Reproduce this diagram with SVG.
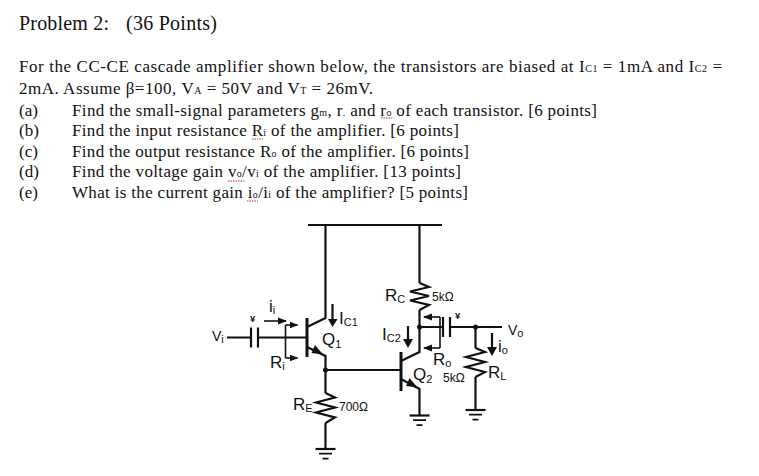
<svg xmlns="http://www.w3.org/2000/svg" width="759" height="476" viewBox="0 0 759 476">
<style>
.t{font-family:"Liberation Serif",serif;font-size:17px;fill:#111}
.s{font-size:10px}
.h{font-size:20px}
.c{font-family:"Liberation Sans",sans-serif;font-size:17px;fill:#111}
.c tspan{font-size:11px}
.v{font-size:14px}
.m{font-family:"Liberation Sans",sans-serif;font-size:12px;fill:#111}
.y{font-size:9.5px;font-weight:bold}
.w{fill:none;stroke:#111;stroke-width:2.2}
.g{fill:none;stroke:#111;stroke-width:1.8}
.th{fill:none;stroke:#111;stroke-width:1.6}
.b{fill:none;stroke:#111;stroke-width:3}
.sq{fill:none;stroke:#d22;stroke-width:1;stroke-dasharray:1.5 1}
.k{fill:#111}
</style>
<defs>
<marker id="a" markerWidth="9" markerHeight="8" refX="8" refY="4" orient="auto" markerUnits="userSpaceOnUse"><path d="M0 0.5L9 4L0 7.5Z" fill="#111"/></marker>
<g id="gnd"><path class="w" d="M-10 0H10"/><path class="g" d="M-6.5 4.7H6.5M-3 9.7H3"/></g>
</defs>
<rect width="759" height="476" fill="#fff"/>
<g id="text">
<text class="t h" x="19" y="30" textLength="90">Problem 2:</text>
<text class="t h" x="126" y="30" textLength="91">(36 Points)</text>
<text class="t" x="19" y="72" textLength="703">For the CC-CE cascade amplifier shown below, the transistors are biased at I<tspan class="s">C1</tspan> = 1mA and I<tspan class="s">C2</tspan> =</text>
<text class="t" x="19" y="93.5" textLength="354">2mA. Assume β=100, V<tspan class="s">A</tspan> = 50V and V<tspan class="s">T</tspan> = 26mV.</text>
<text class="t" x="19" y="116">(a)</text><text class="t" x="72" y="116" textLength="525">Find the small-signal parameters g<tspan class="s">m</tspan>, r<tspan class="s">.</tspan> and r<tspan class="s">o</tspan> of each transistor. [6 points]</text>
<text class="t" x="19" y="136">(b)</text><text class="t" x="72" y="136" textLength="387">Find the input resistance R<tspan class="s">i</tspan> of the amplifier. [6 points]</text>
<text class="t" x="19" y="157">(c)</text><text class="t" x="72" y="157" textLength="397">Find the output resistance R<tspan class="s">o</tspan> of the amplifier. [6 points]</text>
<text class="t" x="19" y="177">(d)</text><text class="t" x="72" y="177" textLength="389">Find the voltage gain v<tspan class="s">o</tspan>/v<tspan class="s">i</tspan> of the amplifier. [13 points]</text>
<text class="t" x="19" y="198">(e)</text><text class="t" x="72" y="198" textLength="396">What is the current gain i<tspan class="s">o</tspan>/i<tspan class="s">i</tspan> of the amplifier? [5 points]</text>
<path class="sq" d="M252 139H263M228 181H245M247 201H258M381 118H393"/>
</g>
<g id="connectors">
<path class="w" d="M308 225H442M325.5 225V318L307 327M307 347L325.5 356V393M325.5 423V449M325.5 370H401M419.5 225V283M419.5 310V352L401 361M401 379L419.5 389V415M419.5 327H443M450 327H502M475.5 327V348M475.5 377V410"/>
<path class="w" d="M227 337.5H251M258 337.5H307"/>
<path class="th" d="M285.5 325V358"/>
<path class="th" d="M285.5 325H297.5" marker-end="url(#a)"/>
<path class="th" d="M285.5 358H297.5" marker-end="url(#a)"/>
<path class="th" d="M440 317V348"/>
<path class="th" d="M440 317H424" marker-end="url(#a)"/>
<path class="th" d="M440 348H424" marker-end="url(#a)"/>
<path class="th" d="M264 321H286" marker-end="url(#a)"/>
<path class="w" d="M332.5 304V322"/><path class="k" d="M328 319H337.5L332.5 327Z"/>
<path class="w" d="M408 326V343"/><path class="k" d="M403 339H413L408 348Z"/>
<path class="w" d="M492 333V351"/><path class="k" d="M487 347H497L492 356Z"/>
<circle class="k" cx="325.5" cy="370" r="2.5"/><circle class="k" cx="419.5" cy="327" r="2.5"/><circle class="k" cx="475.5" cy="327" r="2.5"/>
</g>
<g id="Q1"><path class="b" d="M307 318V357"/><path class="k" d="M323 354.5L311.5 353L315 345Z"/><text class="c" x="322" y="345">Q<tspan dy="3">1</tspan></text></g>
<g id="Q2"><path class="b" d="M401 352V391"/><path class="k" d="M417.5 387.5L406 386L409.5 378Z"/><text class="c" x="413" y="380">Q<tspan dy="3">2</tspan></text></g>
<g id="RE"><path class="w" d="M325.5 393L335 397.5L316 402.5L335 407.5L316 412.5L335 417.5L325.5 423"/><text class="c" x="293" y="410">R<tspan dy="2">E</tspan></text><text class="m" x="339" y="411">700Ω</text></g>
<g id="RC"><path class="w" d="M419.5 283L429 287L410 291.5L429 296L410 300.5L429 305L419.5 310"/><text class="c" x="385" y="301">R<tspan dy="2">C</tspan></text><text class="m" x="432" y="301">5kΩ</text></g>
<g id="RL"><path class="w" d="M475.5 348L485 352L466 357L485 362L466 367L485 372L475.5 377"/><text class="c" x="488" y="378">R<tspan dy="2">L</tspan></text><text class="m" x="443" y="382">5kΩ</text><use href="#gnd" x="475.5" y="410"/></g>
<g id="C1"><path class="w" d="M251 327.5V347.5M258 327.5V347.5"/><text class="m y" x="250" y="322">¥</text></g>
<g id="C2"><path class="w" d="M443 317V337M450 317V337"/><text class="m y" x="455" y="319">¥</text></g>
<g id="GND1"><use href="#gnd" x="325.5" y="449"/></g>
<g id="GND2"><use href="#gnd" x="419.5" y="415.5"/></g>
<g id="labels">
<text class="c v" x="212" y="341">V<tspan dy="2">i</tspan></text>
<text class="c" x="269" y="312">i<tspan dy="2">i</tspan></text>
<text class="c" x="270" y="368">R<tspan dy="2">i</tspan></text>
<text class="c" x="339" y="324">I<tspan dy="2">C1</tspan></text>
<text class="c" x="382" y="340">I<tspan dy="2">C2</tspan></text>
<text class="c" x="433" y="365">R<tspan dy="2">o</tspan></text>
<text class="c v" x="508" y="335">V<tspan dy="2">o</tspan></text>
<text class="c" x="498" y="352">i<tspan dy="2">o</tspan></text>
</g>
</svg>
